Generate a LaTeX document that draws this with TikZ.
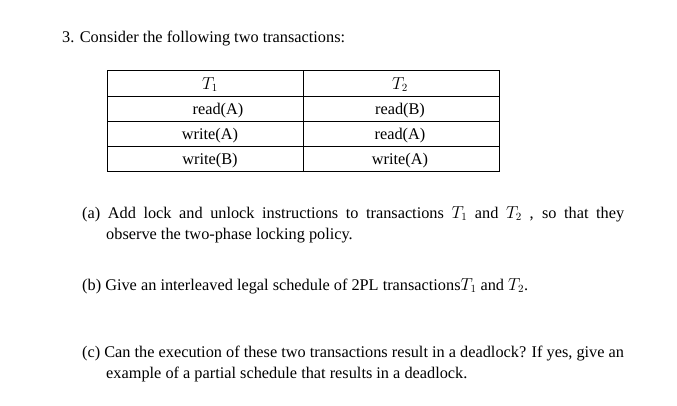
\documentclass[tikz,border=0pt]{standalone}
\usepackage{fontspec}
\setmainfont{Liberation Serif}
\usetikzlibrary{positioning}

\begin{document}
\begin{tikzpicture}[
    x=1pt, y=-1pt,
    font=\fontsize{16.3}{19}\selectfont,
    line/.style={anchor=base west, inner sep=0pt},
    cell/.style={anchor=base, inner sep=0pt},
    rule/.style={draw=black, line width=1pt}
]
\useasboundingbox (0,0) rectangle (677,405);

% -------------------- Heading -------------------------
\node[line] (head) at (62,42) {3. Consider the following two transactions:};

% -------------------- Table ---------------------------
\draw[rule] (107,70.5) rectangle (499,171.5);
\draw[rule] (303,70.5) -- (303,171.5);
\foreach \yy in {96,121.5,146} {
  \draw[rule] (107,\yy) -- (499,\yy);
}
\node[cell] (t1) at (210,89) {$T_{1}$};
\node[cell] (t2) at (400,89) {$T_{2}$};
\node[cell] (r1a) at (218,114) {read(A)};
\node[cell] (r2b) at (400,114) {read(B)};
\node[cell] (w1a) at (210,139) {write(A)};
\node[cell] (r2a) at (400,139) {read(A)};
\node[cell] (w1b) at (210,164) {write(B)};
\node[cell] (w2a) at (400,164) {write(A)};

% -------------------- Questions -----------------------
\node[line] (qa) at (82,218) {\makebox[542pt][s]{(a) Add lock and unlock instructions to transactions $T_{1}$ and $T_{2}$ , so that they}};
\node[line] (qa2) at (106,239) {observe the two-phase locking policy.};
\node[line] (qb) at (82,290) {(b) Give an interleaved legal schedule of 2PL transactions$T_{1}$ and $T_{2}$.};
\node[line] (qc) at (82,357) {(c) Can the execution of these two transactions result in a deadlock? If yes, give an};
\node[line] (qc2) at (106,378) {example of a partial schedule that results in a deadlock.};
\end{tikzpicture}
\end{document}
